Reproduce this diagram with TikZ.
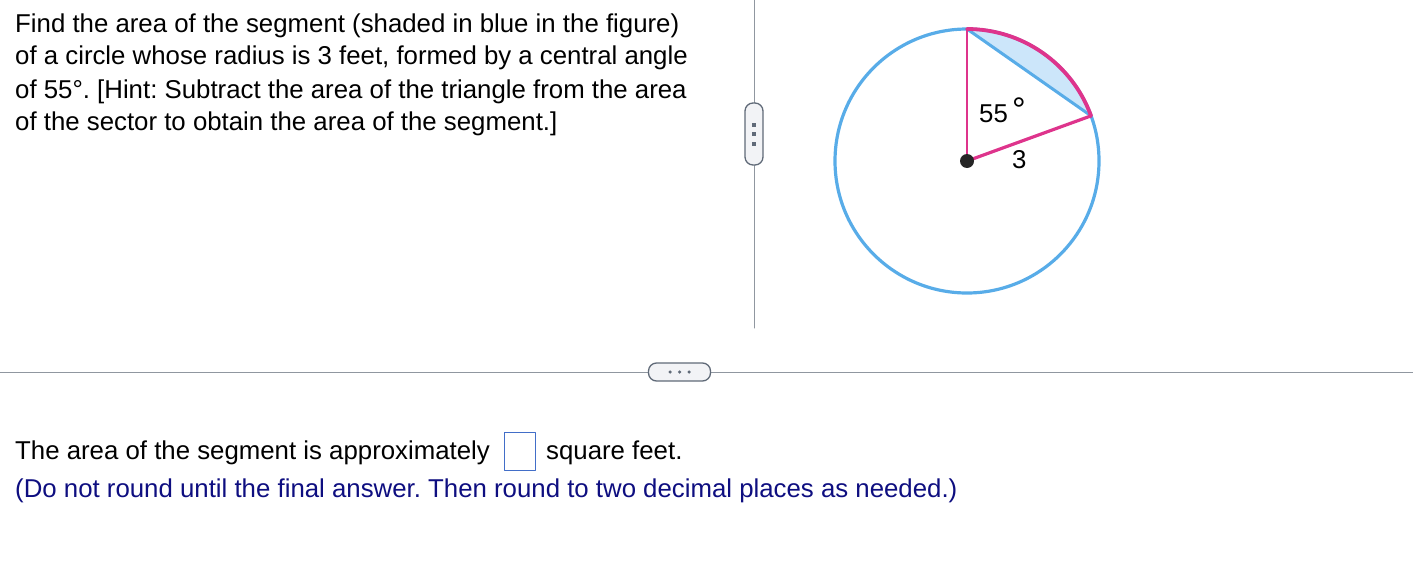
\documentclass[tikz,border=0pt]{standalone}
\usepackage{fontspec}
\setmainfont{Liberation Sans}
\usetikzlibrary{calc}
\frenchspacing
\definecolor{circblue}{RGB}{88,172,232}
\definecolor{segfill}{RGB}{204,230,250}
\definecolor{arcpink}{RGB}{222,52,140}
\definecolor{handlegray}{RGB}{96,106,120}
\definecolor{handlefill}{RGB}{242,243,246}
\definecolor{noteblue}{RGB}{14,14,128}
\definecolor{boxblue}{RGB}{66,110,200}
\tikzset{
  qtext/.style={anchor=base west,inner sep=0pt,font=\fontsize{25.8}{33}\selectfont},
  handle/.style={draw=handlegray,fill=handlefill,line width=1.3pt,rounded corners=8pt},
  hdot/.style={fill=handlegray,inner sep=0pt,minimum size=4pt},
  divider/.style={draw=handlegray!70,line width=1pt}
}
\begin{document}
\begin{tikzpicture}[line cap=round,line join=round,x=1pt,y=-1pt]
\useasboundingbox (0,0) rectangle (1413,578);
% question text
\node[qtext] (l1) at (15,33) {Find the area of the segment (shaded in blue in the figure)};
\node[qtext] (l2) at (15,65) {of a circle whose radius is 3 feet, formed by a central angle};
\node[qtext] (l3) at (15,98) {of 55°. [Hint: Subtract the area of the triangle from the area};
\node[qtext] (l4) at (15,130) {of the sector to obtain the area of the segment.]};
% vertical divider
\draw[divider] (754,0) -- (754,328);
\node[handle,minimum width=18pt,minimum height=62pt] (vh) at (754,134) {};
\foreach \k in {-1,0,1}
  \node[hdot] at ($(vh.center)+(0,\k*9.5)$) {};
% horizontal divider
\draw[divider] (0,372) -- (1413,372);
\node[handle,minimum width=62pt,minimum height=18pt] (hh) at (679.5,372) {};
\foreach \k in {-1,0,1}
  \node[hdot,circle,minimum size=3.5pt] at ($(hh.center)+(\k*9.5,0)$) {};
% circle figure (y axis points down, so angles are negated)
\coordinate (O) at (967,161);
\coordinate (A) at ($(O)+(-90:132)$);
\coordinate (B) at ($(O)+(-20:132)$);
\fill[segfill] (A) arc[start angle=-90,end angle=-20,radius=132] -- cycle;
\draw[circblue,line width=3.2pt] (O) circle[radius=132];
\draw[circblue,line width=3pt] (A) -- (B);
\draw[arcpink,line width=3.8pt] (A) arc[start angle=-90,end angle=-20,radius=132];
\draw[arcpink,line width=1.8pt] (O) -- (A);
\draw[arcpink,line width=3.2pt] (O) -- (B);
\fill[black!85] (O) circle (7pt);
\node[qtext] (ang) at (979,122) {55\,\raisebox{1pt}{\fontsize{34}{34}\selectfont°}};
\node[qtext] (rad) at (1012,168) {3};
% answer line
\node[qtext] (ans) at (15,459) {The area of the segment is approximately};
\node[draw=boxblue,line width=1.2pt,minimum width=31pt,minimum height=38pt,inner sep=0pt,anchor=north west] (box) at (504,432) {};
\node[qtext] (unit) at (546,459) {square feet.};
\node[qtext,text=noteblue] (note) at (15,497) {(Do not round until the final answer. Then round to two decimal places as needed.)};
\end{tikzpicture}
\end{document}
